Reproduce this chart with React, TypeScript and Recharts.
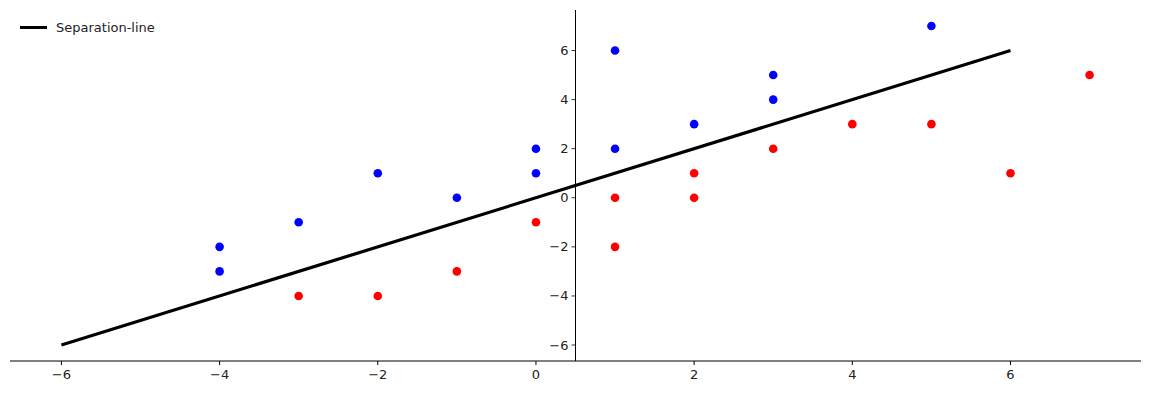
import React from 'react'
import { ComposedChart, Scatter, Line, XAxis, YAxis, ReferenceLine, ReferenceDot } from 'recharts'

// points above the line
const blueX = [-4, -4, -3, -2, -1, 0, 0, 1, 1, 2, 3, 3, 5]
const blueY = [-2, -3, -1, 1, 0, 2, 1, 6, 2, 3, 5, 4, 7]
// points below the line
const redX = [-3, -2, -1, 0, 1, 1, 2, 2, 3, 4, 5, 6, 7]
const redY = [-4, -4, -3, -1, 0, -2, 1, 0, 2, 3, 3, 1, 5]
// separation line end points
const lineX = [-6, 6]
const lineY = [-6, 6]

const xTicks = [-6, -4, -2, 0, 2, 4, 6]
const yTicks = [-6, -4, -2, 0, 2, 4, 6]

const X_DOMAIN: [number, number] = [-6.65, 7.65]
const Y_DOMAIN: [number, number] = [-6.65, 7.65]
const Y_SPINE_AT = 0.5

const W = 1151
const H = 397
const margin = { top: 10, right: 10, bottom: 0, left: 10 }

const FONT = '"DejaVu Sans", sans-serif'

const zip = (xs: number[], ys: number[]) => xs.map((x, i) => ({ x, y: ys[i] }))
const blueData = zip(blueX, blueY)
const redData = zip(redX, redY)
const lineData = zip(lineX, lineY)

const fmt = (v: number) => (v < 0 ? `\u2212${Math.abs(v)}` : `${v}`)

const Dot = (color: string) => (props: any) => (
  <circle cx={props.cx} cy={props.cy} r={4.3} fill={color} />
)

// y tick drawn on the moved spine
const YTickMark = (props: any) => {
  const { cx, cy, label } = props
  return (
    <g>
      <line x1={cx - 4} x2={cx} y1={cy} y2={cy} stroke="#000" strokeWidth={0.8} />
      <text x={cx - 7} y={cy} dy={4.5} textAnchor="end" fontSize={13} fontFamily={FONT} fill="#222">
        {label}
      </text>
    </g>
  )
}

const XTick = (props: any) => {
  const { x, y, payload } = props
  return (
    <text x={x} y={y} dy={12} textAnchor="middle" fontSize={13} fontFamily={FONT} fill="#222">
      {fmt(payload.value)}
    </text>
  )
}

export default function App() {
  return (
    <div style={{ position: 'absolute', left: 0, top: 0, width: W, height: H, background: '#fff' }}>
      <ComposedChart width={W} height={H} margin={margin}>
        <XAxis
          type="number"
          dataKey="x"
          domain={X_DOMAIN}
          ticks={xTicks}
          allowDataOverflow
          stroke="#000"
          tickSize={4}
          tick={<XTick />}
          height={36}
        />
        <YAxis type="number" dataKey="y" domain={Y_DOMAIN} allowDataOverflow hide />
        <ReferenceLine x={Y_SPINE_AT} stroke="#000" strokeWidth={1} />
        {yTicks.map((t) => (
          <ReferenceDot
            key={t}
            x={Y_SPINE_AT}
            y={t}
            r={0}
            shape={(p: any) => <YTickMark {...p} label={fmt(t)} />}
          />
        ))}
        <Line
          data={lineData}
          dataKey="y"
          stroke="#000"
          strokeWidth={3.2}
          dot={false}
          isAnimationActive={false}
        />
        <Scatter data={blueData} fill="#0000ff" shape={Dot('#0000ff')} isAnimationActive={false} />
        <Scatter data={redData} fill="#ff0000" shape={Dot('#ff0000')} isAnimationActive={false} />
      </ComposedChart>
      <div
        style={{
          position: 'absolute',
          left: 20,
          top: 20,
          display: 'flex',
          alignItems: 'center',
          fontFamily: FONT,
          fontSize: 13,
          color: '#222',
        }}
      >
        <div style={{ width: 27, height: 3, background: '#000', marginRight: 9 }} />
        <span>Separation-line</span>
      </div>
    </div>
  )
}
